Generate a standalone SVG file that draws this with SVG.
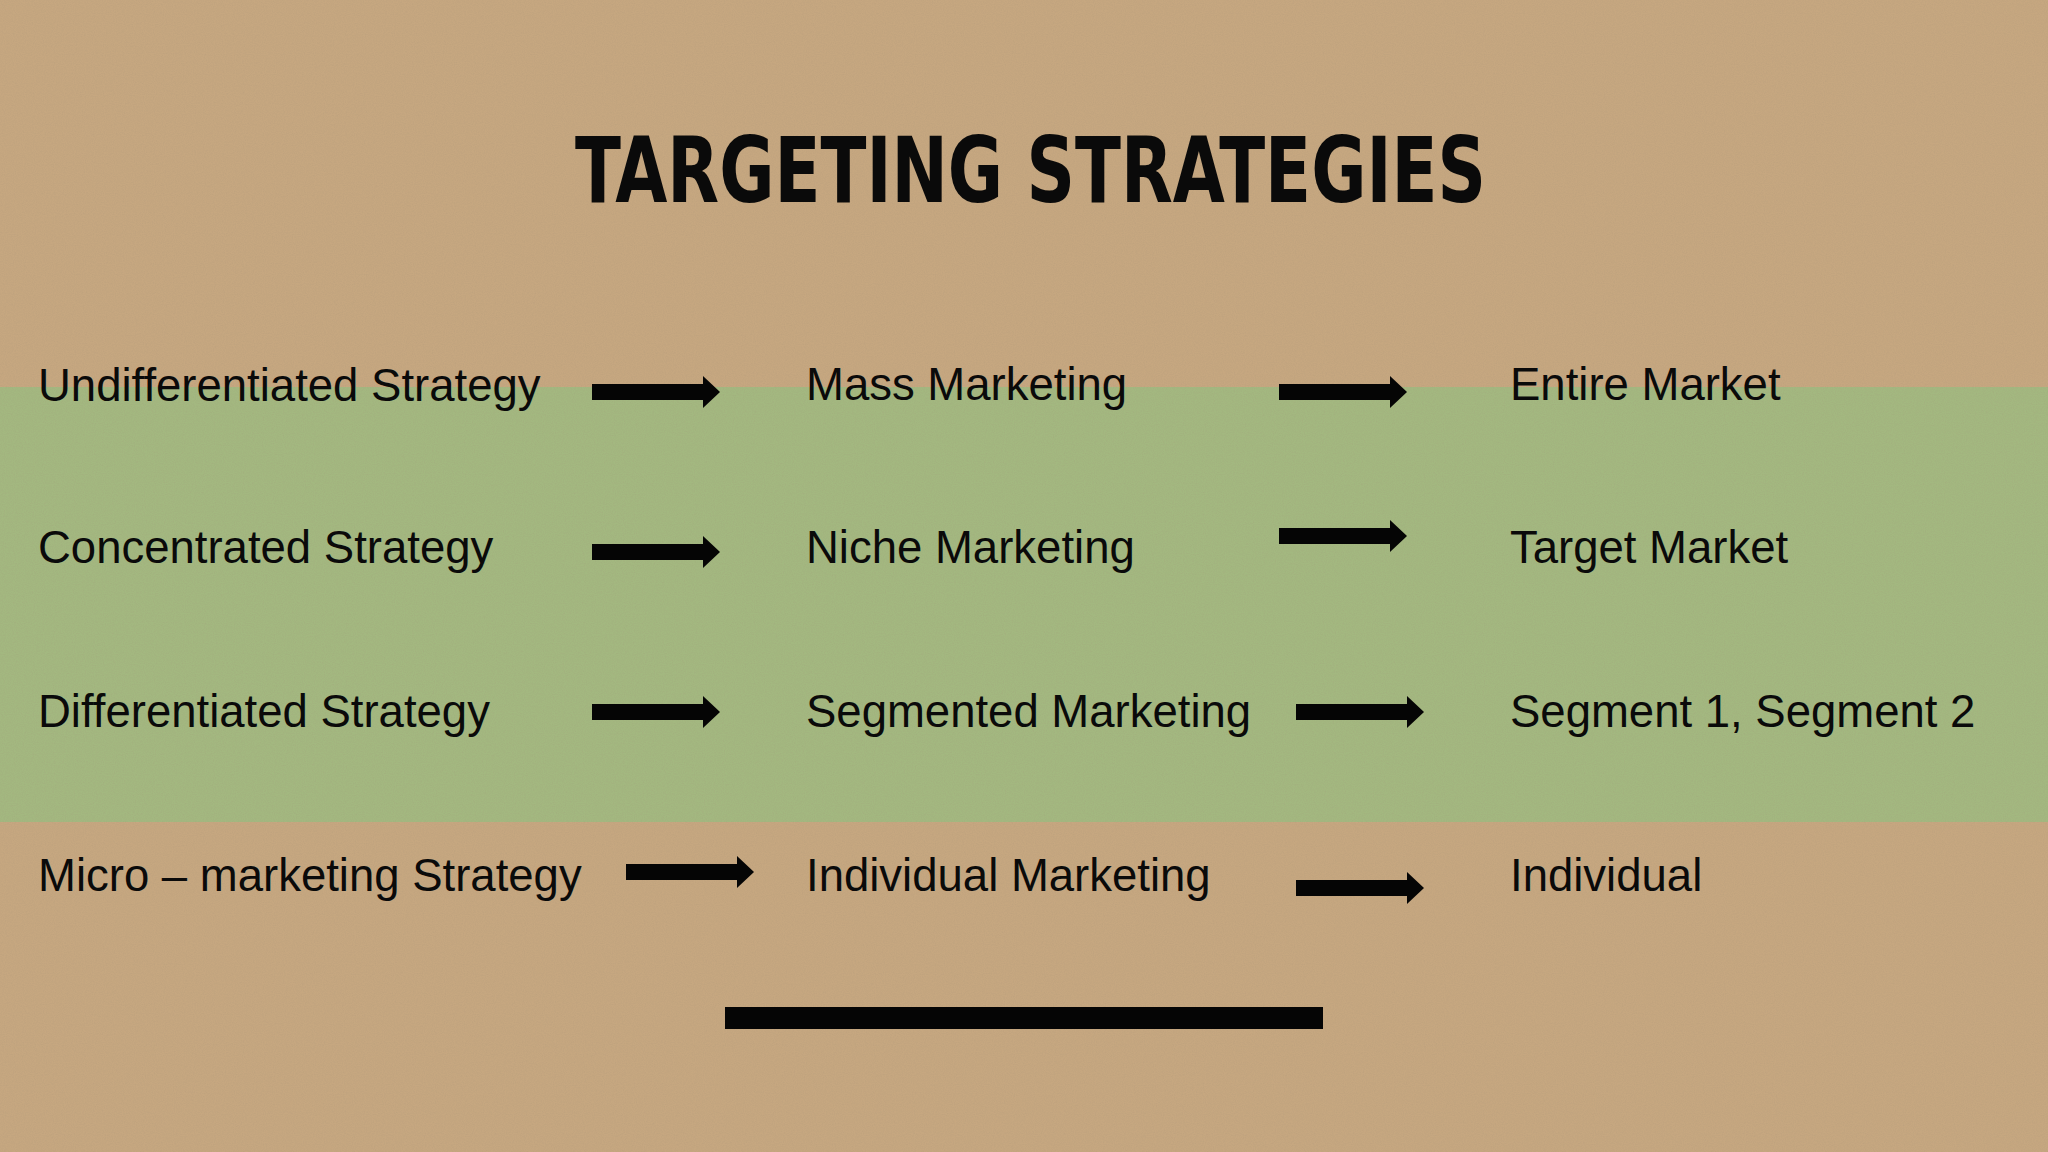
<svg xmlns="http://www.w3.org/2000/svg" xmlns:xlink="http://www.w3.org/1999/xlink" width="2048" height="1152" viewBox="0 0 2048 1152">
<style>
.lbl{font-family:"Liberation Sans",Arial,sans-serif;font-size:45.5px;fill:#0a0a0a}
.ttl{font-family:"Liberation Sans Narrow","DejaVu Sans Condensed","Liberation Sans",sans-serif;font-weight:bold;font-size:91px;fill:#0a0a0a}
.arr{fill:#050505}
</style>
<defs>
<filter id="grain" x="0" y="0" width="100%" height="100%">
<feTurbulence type="fractalNoise" baseFrequency="0.9" numOctaves="3" seed="7" result="n"/>
<feColorMatrix type="matrix" values="0 0 0 0 0.35  0 0 0 0 0.27  0 0 0 0 0.18  0 0 0 -1.6 1.05"/>
</filter>
<path id="arrow" d="M0,-8 H111 V-16 L128,0 L111,16 V8 H0 Z"/>
</defs>
<rect width="2048" height="1152" fill="#c6a780"/>
<rect y="387" width="2048" height="435" fill="#a3b880"/>
<rect width="2048" height="1152" filter="url(#grain)" opacity="0.18"/>
<g id="title"><text class="ttl" x="575" y="202" textLength="911" lengthAdjust="spacingAndGlyphs">TARGETING STRATEGIES</text></g>
<g id="n-undifferentiated"><text class="lbl" x="38" y="401">Undifferentiated Strategy</text></g>
<g id="n-mass"><text class="lbl" x="806" y="400">Mass Marketing</text></g>
<g id="n-entire"><text class="lbl" x="1510" y="400">Entire Market</text></g>
<g id="n-concentrated"><text class="lbl" x="38" y="563">Concentrated Strategy</text></g>
<g id="n-niche"><text class="lbl" x="806" y="563">Niche Marketing</text></g>
<g id="n-target"><text class="lbl" x="1510" y="563">Target Market</text></g>
<g id="n-differentiated"><text class="lbl" x="38" y="727">Differentiated Strategy</text></g>
<g id="n-segmented"><text class="lbl" x="806" y="727">Segmented Marketing</text></g>
<g id="n-segments"><text class="lbl" x="1510" y="727">Segment 1, Segment 2</text></g>
<g id="n-micro"><text class="lbl" x="38" y="891">Micro – marketing Strategy</text></g>
<g id="n-individualmkt"><text class="lbl" x="806" y="891">Individual Marketing</text></g>
<g id="n-individual"><text class="lbl" x="1510" y="891">Individual</text></g>
<g id="connectors" class="arr">
<use href="#arrow" xlink:href="#arrow" x="592" y="392"/>
<use href="#arrow" xlink:href="#arrow" x="1279" y="392"/>
<use href="#arrow" xlink:href="#arrow" x="592" y="552"/>
<use href="#arrow" xlink:href="#arrow" x="1279" y="536"/>
<use href="#arrow" xlink:href="#arrow" x="592" y="712"/>
<use href="#arrow" xlink:href="#arrow" x="1296" y="712"/>
<use href="#arrow" xlink:href="#arrow" x="626" y="872"/>
<use href="#arrow" xlink:href="#arrow" x="1296" y="888"/>
</g>
<rect id="bar" x="725" y="1007" width="598" height="22" fill="#050505"/>
</svg>
